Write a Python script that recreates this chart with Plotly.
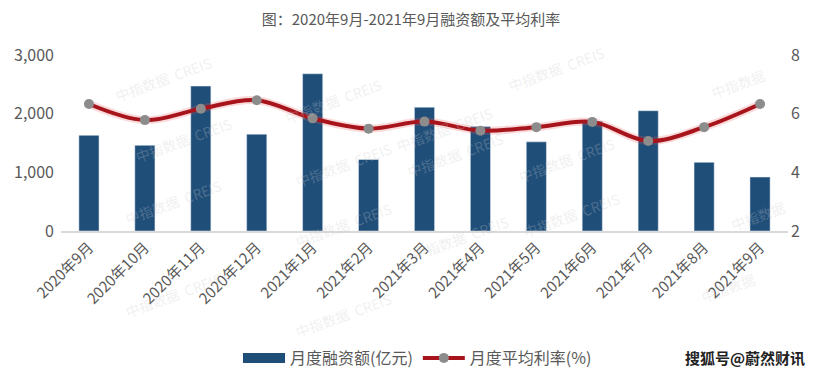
import plotly.graph_objects as go

months = ["2020年9月", "2020年10月", "2020年11月", "2020年12月", "2021年1月", "2021年2月",
          "2021年3月", "2021年4月", "2021年5月", "2021年6月", "2021年7月", "2021年8月", "2021年9月"]
financing = [1630, 1460, 2470, 1650, 2680, 1220, 2110, 1780, 1520, 1870, 2050, 1170, 920]
avg_rate = [6.33, 5.78, 6.17, 6.46, 5.84, 5.49, 5.73, 5.42, 5.54, 5.72, 5.07, 5.54, 6.33]

title_text = "图：2020年9月-2021年9月融资额及平均利率"
bar_name = "月度融资额(亿元)"
line_name = "月度平均利率(%)"

FONT = "Noto Sans CJK SC, Noto Sans, sans-serif"
GRAY = "#595959"
OFF = 8  # default page body margin
W, H = 822 - 2 * OFF, 378 - 2 * OFF
L, T = 61 - OFF, 55 - OFF
R = W - (788 - OFF)
B = H - (231.5 - OFF)
PW, PH = W - L - R, H - T - B


def px2paper(px, py):
    return (px - OFF - L) / PW, (H - B - (py - OFF)) / PH


fig = go.Figure()
fig.add_trace(go.Bar(x=months, y=financing, name=bar_name, marker_color="#1F4E79",
                     yaxis="y", showlegend=False))
# legend stand-in for the bar series (wide rectangle swatch)
fig.add_trace(go.Scatter(x=[None], y=[None], mode="lines", name=bar_name,
                         line=dict(color="#1F4E79", width=11)))
fig.add_trace(go.Scatter(x=months, y=avg_rate, yaxis="y2", mode="lines",
                         line=dict(color="rgba(230,90,90,0.22)", width=8, shape="spline"),
                         showlegend=False, hoverinfo="skip"))
fig.add_trace(go.Scatter(x=months, y=avg_rate, name=line_name, yaxis="y2", mode="lines+markers",
                         line=dict(color="#A8141C", width=4, shape="spline"),
                         marker=dict(color="#8C8C8C", size=10)))

# faint watermarks
wm = [(110, 50), (280, 72), (445, 100), (610, 40),
      (130, 140), (290, 165), (455, 185), (620, 160),
      (120, 232), (290, 255), (460, 268), (625, 245),
      (120, 325), (290, 345)]
for (px, py) in wm:
    ax, ay = px2paper(px, py)
    fig.add_annotation(x=ax, y=ay, xref="paper", yref="paper",
                       text="中指数据  CREIS", showarrow=False, textangle=-20,
                       font=dict(family=FONT, size=14, color="rgba(200,200,200,0.28)"))
for (px, py) in [(770, 62), (790, 238), (760, 310)]:
    ax, ay = px2paper(px, py)
    fig.add_annotation(x=ax, y=ay, xref="paper", yref="paper",
                       text="中指数据", showarrow=False, textangle=-20,
                       font=dict(family=FONT, size=14, color="rgba(200,200,200,0.28)"))

sx, sy = px2paper(745, 358)
fig.add_annotation(x=sx, y=sy, xref="paper", yref="paper",
                   xanchor="center", yanchor="middle",
                   text="<b>搜狐号@蔚然财讯</b>", showarrow=False,
                   font=dict(family=FONT, size=15, color="#222222"))

fig.update_layout(
    width=W, height=H,
    margin=dict(l=L, r=R, t=T, b=B),
    paper_bgcolor="white", plot_bgcolor="white",
    title=dict(text=title_text, x=(411 - OFF) / W, xanchor="center",
               y=1 - (20 - OFF) / H, yref="container",
               yanchor="middle", font=dict(family=FONT, size=15, color=GRAY)),
    bargap=0.64,
    font=dict(family=FONT, color=GRAY),
    xaxis=dict(type="category", range=[-0.5, 12.5], tickangle=-45, showgrid=False,
               showline=True, linecolor="#D9D9D9", linewidth=1.5, ticks="", automargin=False,
               tickfont=dict(family=FONT, size=15, color=GRAY)),
    yaxis=dict(range=[0, 3000], tickvals=[0, 1000, 2000, 3000], tickformat=",",
               showgrid=False, zeroline=False, ticks="", automargin=False,
               ticklabelstandoff=6,
               tickfont=dict(family=FONT, size=16, color=GRAY)),
    yaxis2=dict(range=[2, 8], tickvals=[2, 4, 6, 8], overlaying="y", side="right",
                showgrid=False, zeroline=False, ticks="", automargin=False,
                ticklabelstandoff=2,
                tickfont=dict(family=FONT, size=16, color=GRAY)),
    legend=dict(orientation="h", xref="container", yref="container",
                x=(238 - OFF) / W, xanchor="left", y=1 - (358 - OFF) / H, yanchor="middle",
                itemwidth=42, font=dict(family=FONT, size=16, color=GRAY),
                bgcolor="rgba(0,0,0,0)"),
)

fig.write_html("out.html")
